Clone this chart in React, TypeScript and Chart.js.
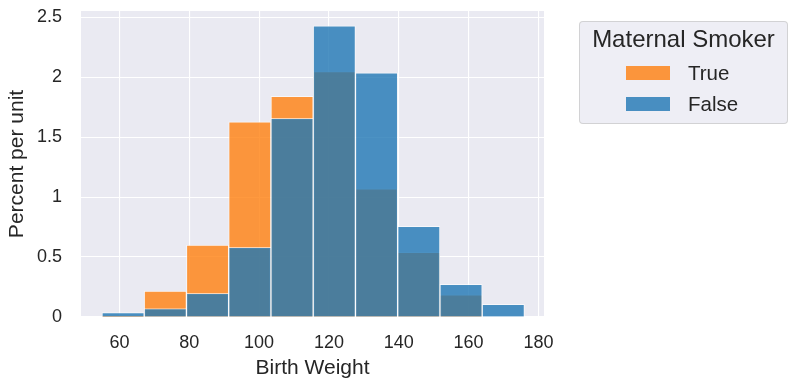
import React, { useEffect, useRef } from "react";
import { Chart, registerables } from "chart.js";

Chart.register(...registerables);

// Histogram bin edges (Birth Weight)
const binEdges = [55, 67.1, 79.2, 91.3, 103.4, 115.5, 127.6, 139.7, 151.8, 163.9, 176];
// Percent per unit, Maternal Smoker = True
const smokerTrue = [0.012, 0.217, 0.6, 1.627, 1.841, 2.047, 1.068, 0.539, 0.184, 0.0];
// Percent per unit, Maternal Smoker = False
const smokerFalse = [0.036, 0.0695, 0.197, 0.581, 1.657, 2.428, 2.036, 0.756, 0.272, 0.106];

const legendTitle = "Maternal Smoker";
const seriesLabels = ["True", "False"];
const xTitle = "Birth Weight";
const yTitle = "Percent per unit";

const FONT = "'Liberation Sans', Arial, Helvetica, sans-serif";
const TEXT = "#262626";
const ORANGE = "rgba(255,127,14,0.8)";
const BLUE = "rgba(31,119,180,0.8)";

const centers = binEdges.slice(0, -1).map((e, i) => (e + binEdges[i + 1]) / 2);

const bgPlugin = {
  id: "plotBg",
  beforeDraw(chart: any) {
    const { ctx, chartArea } = chart;
    if (!chartArea) return;
    ctx.save();
    ctx.fillStyle = "#eaeaf2";
    ctx.fillRect(chartArea.left, chartArea.top, chartArea.right - chartArea.left, chartArea.bottom - chartArea.top);
    ctx.restore();
  },
};

export default function App() {
  const ref = useRef<HTMLCanvasElement | null>(null);

  useEffect(() => {
    if (!ref.current) return;
    const chart = new Chart(ref.current, {
      type: "bar",
      data: {
        datasets: [
          {
            label: seriesLabels[1],
            data: centers.map((x, i) => ({ x, y: smokerFalse[i] })),
            backgroundColor: BLUE,
            borderColor: "rgba(255,255,255,0.6)",
            borderWidth: 1,
            grouped: false,
            order: 0,
            barPercentage: 1,
            categoryPercentage: 1,
          } as any,
          {
            label: seriesLabels[0],
            data: centers.map((x, i) => ({ x, y: smokerTrue[i] })),
            backgroundColor: ORANGE,
            borderColor: "rgba(255,255,255,0.6)",
            borderWidth: 1,
            grouped: false,
            order: 1,
            barPercentage: 1,
            categoryPercentage: 1,
          } as any,
        ],
      },
      options: {
        animation: false,
        responsive: false,
        devicePixelRatio: 1,
        layout: { padding: { left: 0, right: 253, top: 11, bottom: 0 } },
        plugins: { legend: { display: false }, tooltip: { enabled: false } },
        scales: {
          x: {
            type: "linear",
            min: 49.0,
            max: 181.6,
            offset: false,
            border: { display: false },
            grid: { color: "#ffffff", lineWidth: 1.1, drawTicks: false, offset: false },
            ticks: {
              stepSize: 20,
              includeBounds: false,
              padding: 15,
              color: TEXT,
              font: { family: FONT, size: 18 },
              maxRotation: 0,
            },
            title: {
              display: true,
              text: xTitle,
              color: TEXT,
              font: { family: FONT, size: 21 },
              padding: { top: 0, bottom: 8 },
            },
            afterFit: (s: any) => {
              s.height = 72;
              s.paddingLeft = 0;
              s.paddingRight = 0;
              s.paddingTop = 0;
              s.paddingBottom = 0;
            },
          } as any,
          y: {
            type: "linear",
            min: 0,
            max: 2.552,
            border: { display: false },
            grid: { color: "#ffffff", lineWidth: 1.1, drawTicks: false },
            ticks: {
              stepSize: 0.5,
              includeBounds: false,
              padding: 19,
              color: TEXT,
              font: { family: FONT, size: 18 },
              callback: (v: any) => String(Number(v)),
            },
            title: {
              display: true,
              text: yTitle,
              color: TEXT,
              font: { family: FONT, size: 21 },
              padding: { top: 5, bottom: 0 },
            },
            afterFit: (s: any) => {
              s.width = 81;
              s.paddingTop = 0;
              s.paddingBottom = 0;
              s.paddingLeft = 0;
              s.paddingRight = 0;
            },
          } as any,
        },
      },
      plugins: [bgPlugin],
    });
    return () => chart.destroy();
  }, []);

  const labelStyle = (top: number): React.CSSProperties => ({
    position: "absolute",
    left: 688,
    top,
    fontFamily: FONT,
    fontSize: 20.5,
    lineHeight: "20.5px",
    color: TEXT,
    whiteSpace: "nowrap",
  });

  return (
    <div style={{ position: "absolute", left: 0, top: 0, width: 797, height: 389, background: "#ffffff" }}>
      <canvas ref={ref} width={797} height={389} style={{ position: "absolute", left: 0, top: 0 }} />
      <div
        style={{
          position: "absolute",
          left: 579,
          top: 21,
          width: 207,
          height: 101,
          background: "rgba(234,234,242,0.8)",
          border: "1px solid rgba(204,204,204,0.8)",
          borderRadius: 4,
        }}
      />
      <div
        style={{
          position: "absolute",
          left: 579,
          top: 26.5,
          width: 209,
          textAlign: "center",
          fontFamily: FONT,
          fontSize: 24,
          lineHeight: "24px",
          color: TEXT,
          whiteSpace: "nowrap",
        }}
      >
        {legendTitle}
      </div>
      <div style={{ position: "absolute", left: 626, top: 66, width: 44, height: 14, background: ORANGE }} />
      <div style={{ position: "absolute", left: 626, top: 97, width: 44, height: 14, background: BLUE }} />
      <div style={labelStyle(62.6)}>{seriesLabels[0]}</div>
      <div style={labelStyle(93.6)}>{seriesLabels[1]}</div>
    </div>
  );
}
